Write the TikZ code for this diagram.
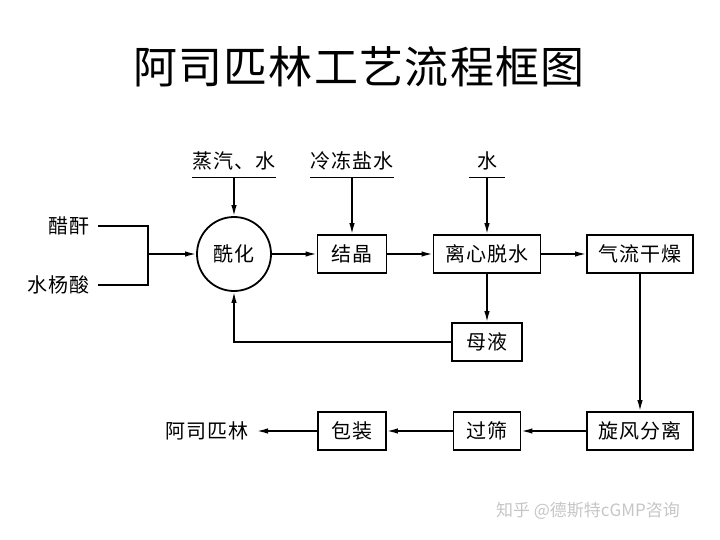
\documentclass[tikz,border=0pt]{standalone}
\usepackage{fontspec}
\setmainfont{Noto Sans CJK SC}
\newfontfamily\titlefont[LetterSpace=3]{Noto Sans CJK SC}
\newfontfamily\labelfont[LetterSpace=5]{Noto Sans CJK SC}
\newcommand{\procfont}{\labelfont\fontsize{20pt}{24pt}\selectfont}
\usetikzlibrary{arrows.meta}
\begin{document}
\begin{tikzpicture}[x=1pt,y=-1pt]
            \tikzset{
                box/.style={draw, line width=1.8pt, minimum height=38pt, inner sep=0pt, font=\procfont},
                vessel/.style={draw, circle, line width=1.8pt, minimum size=74pt, inner sep=0pt, font=\procfont},
                txt/.style={anchor=east, inner xsep=8pt, font=\procfont},
                feed/.style={inner xsep=0pt, inner ysep=7pt, font=\procfont},
                line/.style={line width=1.5pt},
                arc/.style={line width=1.5pt, -{Latex[length=11pt, width=5.5pt]}}
            }
            \useasboundingbox (0,0) rectangle (720,540);
            \node[font=\titlefont\fontsize{44pt}{48pt}\selectfont] (title) at (359,67) {阿司匹林工艺流程框图};
            \draw node[txt] (cs) at (98,226) {醋酐};
            \draw node[txt] (sy) at (98,285) {水杨酸};
            \draw node[vessel] (hx) at (234,254) {酰化};
            \draw node[box, minimum width=69pt] (jj) at (352,254) {结晶};
            \draw node[box, minimum width=107pt] (lx) at (487,254) {离心脱水};
            \draw node[box, minimum width=106pt] (qg) at (640,254) {气流干燥};
            \draw node[box, minimum width=70pt] (my) at (487,342) {母液};
            \draw node[box, minimum width=106pt] (xf) at (640,431) {旋风分离};
            \draw node[box, minimum width=67pt] (gs) at (487,431) {过筛};
            \draw node[box, minimum width=68pt] (bz) at (352,431) {包装};
            \draw node[txt] (apl) at (257,431) {阿司匹林};
            \draw node[feed] (zq) at (234,161) {蒸汽、水};
            \draw node[feed] (ld) at (352,161) {冷冻盐水};
            \draw node[feed, minimum width=36pt] (s) at (487,161) {水};
            \coordinate (j1) at (148,226);
            \coordinate (j2) at (148,285);
            \coordinate (jm) at (148,254);
            \draw[line] (cs.east) -- (j1) -- (j2) -- (sy.east);
            \draw[arc] (jm) -- (hx);
            \foreach \x in {zq, ld, s}{
                \draw[line] (\x.south west) -- (\x.south east);
            }
            \draw[arc] (zq.south) -- (hx.north);
            \draw[arc] (ld.south) -- (jj.north);
            \draw[arc] (s.south) -- (lx.north);
            \foreach \x/\y in {%
            hx/jj, jj/lx, lx/qg, lx/my, qg/xf, xf/gs, gs/bz, bz/apl%
            }{
                \draw (\x) edge[arc] (\y);
            }
            \draw[arc] (my.west) -| (hx.south);
            \node[font=\fontsize{17pt}{20pt}\selectfont, text=gray!45] (zh) at (588,511) {知乎 @德斯特cGMP咨询};
        \end{tikzpicture}
\end{document}
